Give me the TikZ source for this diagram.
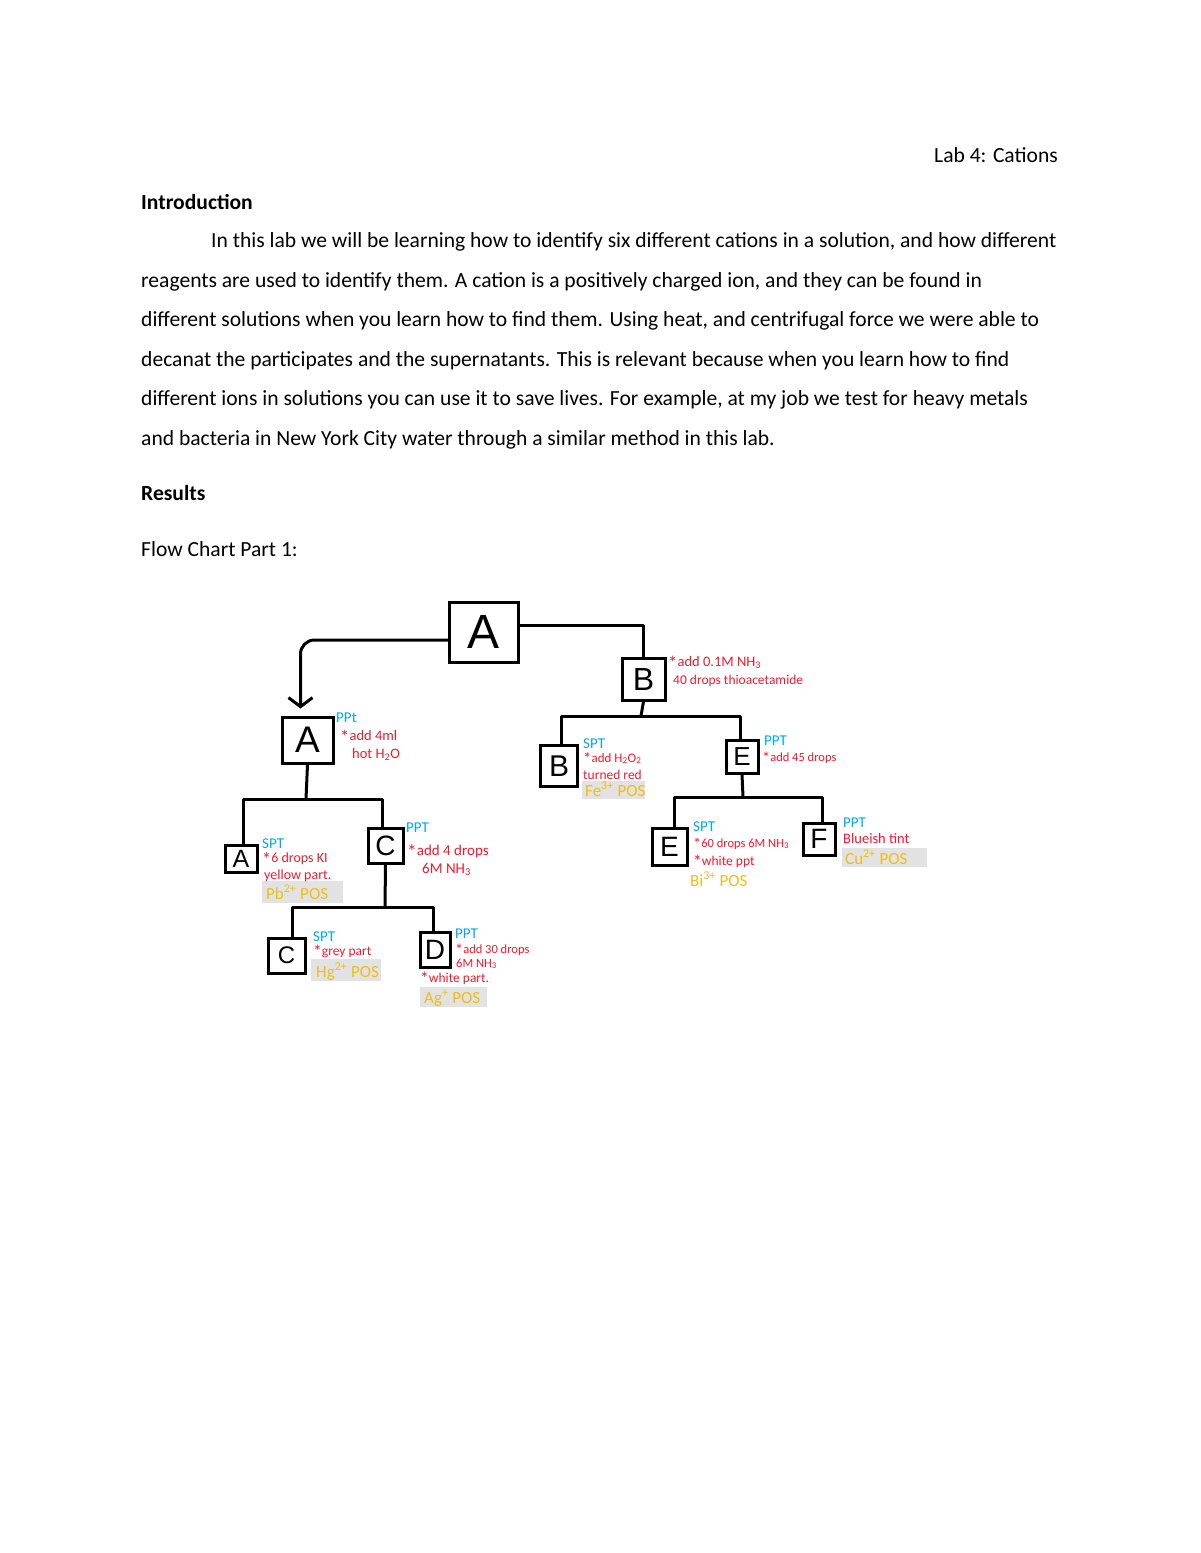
\documentclass[tikz,border=0pt]{standalone}
\usepackage{fontspec}
\setmainfont{Carlito}
\newfontfamily\boxfont{Liberation Sans}
\usetikzlibrary{arrows.meta}
\definecolor{cyanc}{RGB}{0,170,230}
\definecolor{redc}{RGB}{236,28,50}
\definecolor{yelc}{RGB}{240,190,20}
\definecolor{bgc}{RGB}{226,226,226}
\newcommand\hst{\raisebox{-0.45ex}{\scalebox{1.3}{*}}}
\tikzset{
  body/.style={font=\fontsize{21.57}{26}\selectfont, anchor=base west, inner sep=0pt},
  bodyb/.style={body, font=\fontsize{21.57}{26}\selectfont\bfseries},
  box/.style={draw, line width=3pt, inner sep=0pt, minimum width=#1},
  bsz/.style={font=\boxfont\fontsize{#1}{#1}\selectfont},
  conn/.style={line width=3pt, line cap=round, line join=round},
  lc/.style={font=\fontsize{15}{15}\selectfont, text=cyanc, anchor=base west, inner sep=0pt},
  lr/.style={font=\fontsize{#1}{#1}\selectfont, text=redc, anchor=base west, inner sep=0pt},
  lr/.default=13.5,
  ly/.style={font=\fontsize{17}{17}\selectfont, text=yelc, anchor=base west, inner sep=0pt}
}
\begin{document}
\begin{tikzpicture}[x=1pt,y=-1pt]
\useasboundingbox[fill=white] (0,0) rectangle (1200,1553);

% ---------- page text ----------
\node[body, anchor=base east] (title) at (1058,162) {Lab 4: Cations};
\node[bodyb] (intro) at (141,209) {Introduction};
\node[body] (p1) at (211,247) {In this lab we will be learning how to identify six different cations in a solution, and how different};
\node[body] (p2) at (141,287) {reagents are used to identify them. A cation is a positively charged ion, and they can be found in};
\node[body] (p3) at (141,326) {different solutions when you learn how to find them. Using heat, and centrifugal force we were able to};
\node[body] (p4) at (141,366) {decanat the participates and the supernatants. This is relevant because when you learn how to find};
\node[body] (p5) at (141,405) {different ions in solutions you can use it to save lives. For example, at my job we test for heavy metals};
\node[body] (p6) at (141,445) {and bacteria in New York City water through a similar method in this lab.};
\node[bodyb] (res) at (141,500) {Results};
\node[body] (fc) at (141,556) {Flow Chart Part 1:};

% ---------- background highlights ----------
\fill[bgc] (582,781) rectangle (645,799);
\fill[bgc] (842,848) rectangle (927,867);
\fill[bgc] (262,881) rectangle (343,903);
\fill[bgc] (311,959) rectangle (381,981);
\fill[bgc] (420,987) rectangle (487,1007);

% ---------- boxes ----------
\node[box=69pt, minimum height=60pt, bsz=48] (TopA) at (483.5,632) {A};
\node[box=43pt, minimum height=42pt, bsz=32] (TopB) at (643.5,679) {B};
\node[box=37pt, minimum height=41pt, bsz=30] (B2) at (559,766) {B};
\node[box=32pt, minimum height=33pt, bsz=26] (E1) at (742,756.5) {E};
\node[box=35pt, minimum height=37pt, bsz=28] (E2) at (669.5,846.5) {E};
\node[box=32pt, minimum height=32pt, bsz=28] (F) at (819,839) {F};
\node[box=51pt, minimum height=46pt, bsz=37] (A2) at (307.5,740) {A};
\node[box=32pt, minimum height=27pt, bsz=25] (A3) at (241,858.5) {A};
\node[box=35pt, minimum height=35pt, bsz=28] (C1) at (385.5,845.5) {C};
\node[box=37pt, minimum height=35pt, bsz=24] (C2) at (286.5,955.5) {C};
\node[box=30pt, minimum height=35pt, bsz=28] (D) at (435,949.5) {D};

% ---------- junctions ----------
\coordinate (jB) at (641,716);
\coordinate (jE) at (743,797);
\coordinate (jA) at (306,799);
\coordinate (jC) at (385,907);

% ---------- connectors ----------
\draw[conn, rounded corners=14pt, -{Straight Barb[length=9pt,width=24pt]}]
  ([yshift=-8pt]TopA.west) -| ([xshift=-7pt,yshift=7pt]A2.north);
\draw[conn] ([yshift=7pt]TopA.east) -| (TopB.north);
\draw[conn] (TopB.south) -- (jB);
\draw[conn] ([xshift=2pt]B2.north) |- (jB) -| ([xshift=-2pt]E1.north);
\draw[conn] (E1.south) -- (jE);
\draw[conn] ([xshift=5pt]E2.north) |- (jE) -| ([xshift=3pt]F.north);
\draw[conn] (A2.south) -- (jA);
\draw[conn] ([xshift=2pt]A3.north) |- (jA) -| ([xshift=-3pt]C1.north);
\draw[conn] (C1.south) -- (jC);
\draw[conn] ([xshift=6pt]C2.north) |- (jC) -| ([xshift=-2pt]D.north);

% ---------- labels: top B ----------
\node[lr=14.5] (tb1) at (668,666) {\hst add 0.1M NH\textsubscript{3}};
\node[lr=13.5] (tb2) at (673,684) {40 drops thioacetamide};
% B2
\node[lc] (b2a) at (583,748) {SPT};
\node[lr=13] (b2b) at (583,762) {\hst add H\textsubscript{2}O\textsubscript{2}};
\node[lr=13.5] (b2c) at (583,779) {turned red};
\node[ly] (b2d) at (585,796) {Fe\textsuperscript{3+} POS};
% E1
\node[lc] (e1a) at (764,745) {PPT};
\node[lr=12.5] (e1b) at (762,761) {\hst add 45 drops};
% E2
\node[lc] (e2a) at (693,831) {SPT};
\node[lr=12.5] (e2b) at (693,847) {\hst 60 drops 6M NH\textsubscript{3}};
\node[lr=13.5] (e2c) at (693,865) {\hst white ppt};
\node[ly] (e2d) at (690,886) {Bi\textsuperscript{3+} POS};
% F
\node[lc] (fa) at (843,827) {PPT};
\node[lr=14.5] (fb) at (843,843) {Blueish tint};
\node[ly] (fc2) at (845,864) {Cu\textsuperscript{2+} POS};
% A2
\node[lc] (a2a) at (336,722) {PPt};
\node[lr=14.5] (a2b) at (340,740) {\hst add 4ml};
\node[lr=14.5] (a2c) at (352,758) {hot H\textsubscript{2}O};
% A3
\node[lc] (a3a) at (262,848) {SPT};
\node[lr=14] (a3b) at (262,862) {\hst 6 drops KI};
\node[lr=14] (a3c) at (264,879) {yellow part.};
\node[ly] (a3d) at (266,899) {Pb\textsuperscript{2+} POS};
% C1
\node[lc] (c1a) at (406,832) {PPT};
\node[lr=15] (c1b) at (407,855) {\hst add 4 drops};
\node[lr=15] (c1c) at (422,873) {6M NH\textsubscript{3}};
% C2
\node[lc] (c2a) at (313,941) {SPT};
\node[lr=13.5] (c2b) at (313,955) {\hst grey part};
\node[ly] (c2c) at (316,977) {Hg\textsuperscript{2+} POS};
% D
\node[lc] (da) at (455,938) {PPT};
\node[lr=12.5] (db) at (455,953) {\hst add 30 drops};
\node[lr=12.5] (dc) at (456,967) {6M NH\textsubscript{3}};
\node[lr=13.5] (dd) at (420,982) {\hst white part.};
\node[ly] (de) at (424,1003) {Ag\textsuperscript{+} POS};
\end{tikzpicture}
\end{document}
